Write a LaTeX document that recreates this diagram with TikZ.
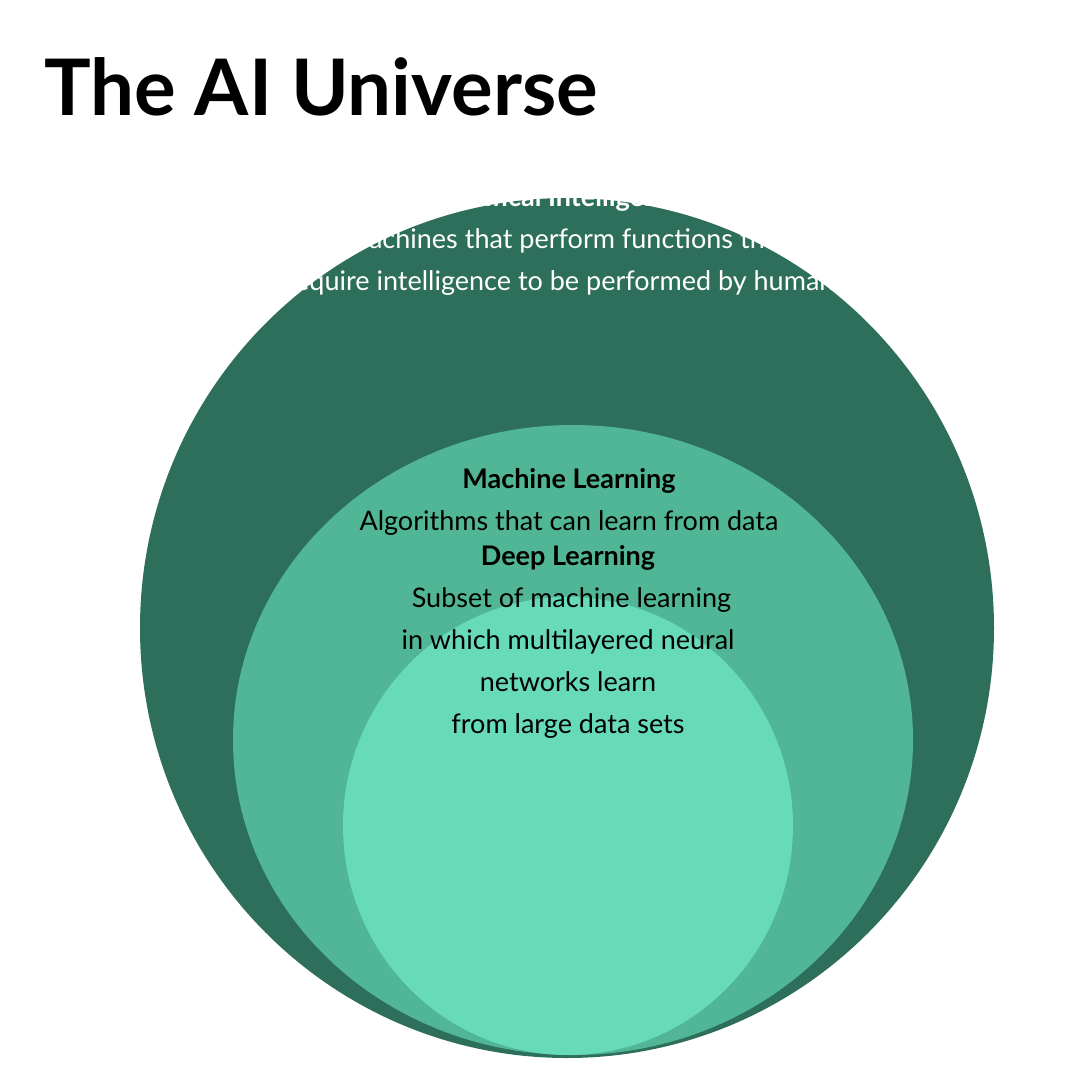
\documentclass[tikz,border=0pt]{standalone}
\usepackage{fontspec}
\setmainfont{Lato}
\definecolor{cout}{HTML}{2E6F5B}
\definecolor{cmid}{HTML}{50B696}
\definecolor{cin}{HTML}{67DAB7}
\begin{document}
\begin{tikzpicture}[x=1pt,y=-1pt,
  body/.style={align=center,font=\fontsize{27}{42}\selectfont,inner sep=0pt}]
\useasboundingbox (0,0) rectangle (1080,1080);
\fill[white] (0,0) rectangle (1080,1080);
\node[anchor=base west,inner sep=0pt,font=\fontsize{78}{90}\selectfont\bfseries] (title) at (44,115) {The AI Universe};
\fill[cout] (567,628) ellipse [x radius=427, y radius=430];
\fill[cmid] (573,740) ellipse [x radius=340, y radius=315];
\fill[cin] (568,826) ellipse [x radius=225, y radius=229];
\node[body,text=white,anchor=base] (ai) at (566,290) {\bfseries Artifical Intelligence\\Machines that perform functions that\\require intelligence to be performed by humans};
\node[body,text=black,anchor=base] (ml) at (569,530) {\bfseries Machine Learning\\Algorithms that can learn from data};
\node[body,text=black,anchor=base] (dl) at (568,733) {\bfseries Deep Learning\\\ Subset of machine learning\\in which multilayered neural\\networks learn\\from large data sets};
\end{tikzpicture}
\end{document}
